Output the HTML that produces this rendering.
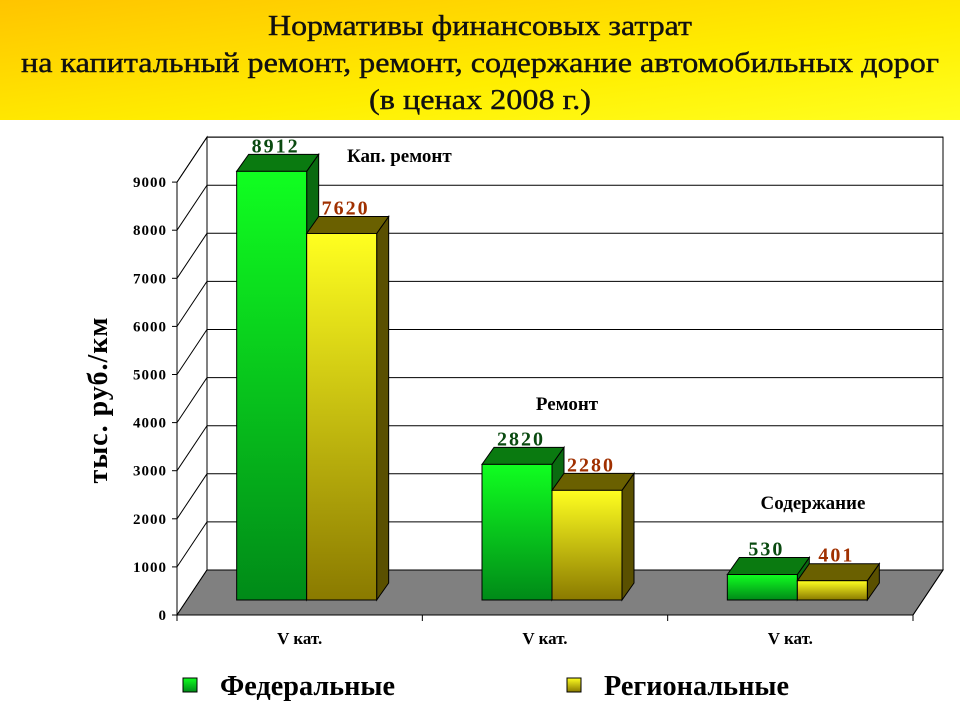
<!DOCTYPE html>
<html><head><meta charset="utf-8"><style>
body{margin:0;width:960px;height:720px;overflow:hidden;background:#fff}
svg{display:block}
text{font-family:"Liberation Serif","Noto Serif CJK SC",serif}
</style></head><body>
<svg id="c" width="960" height="720" viewBox="0 0 960 720">
<defs>
<linearGradient id="hdr" x1="0" y1="0" x2="1" y2="1"><stop offset="0" stop-color="#ffc400"/><stop offset="0.6" stop-color="#ffee00"/><stop offset="1" stop-color="#ffff20"/></linearGradient>
<linearGradient id="gF" x1="0" y1="0" x2="0" y2="1"><stop offset="0" stop-color="#10ff20"/><stop offset="1" stop-color="#008a18"/></linearGradient>
<linearGradient id="gR" x1="0" y1="0" x2="0" y2="1"><stop offset="0" stop-color="#ffff20"/><stop offset="1" stop-color="#8a7a00"/></linearGradient>
</defs>
<rect x="0" y="0" width="960" height="120" fill="url(#hdr)"/>
<g font-size="28" fill="#111" text-anchor="middle" stroke="#111" stroke-width="0.4">
<text x="480" y="35" textLength="424" lengthAdjust="spacingAndGlyphs">Нормативы финансовых затрат</text>
<text x="480" y="72" textLength="918" lengthAdjust="spacingAndGlyphs">на капитальный ремонт, ремонт, содержание автомобильных дорог</text>
<text x="480" y="109" textLength="222" lengthAdjust="spacingAndGlyphs">(в ценах 2008 г.)</text>
</g>
<g id="plot"></g>
</svg>
<script>
const categories=["V кат.","V кат.","V кат."];
const groupNames=["Кап. ремонт","Ремонт","Содержание"];
const federal=[8912,2820,530];
const regional=[7620,2280,401];
const yTicks=[0,1000,2000,3000,4000,5000,6000,7000,8000,9000];
const NS="http://www.w3.org/2000/svg";
const g=document.getElementById('plot');
const X0=177,X1=913,Y0=615,PX=48.1/1000,DX=30,DY=-45;
const y=v=>Y0-v*PX;
function el(t,a,p){const e=document.createElementNS(NS,t);for(const k in a)e.setAttribute(k,a[k]);(p||g).appendChild(e);return e;}
let w=el('polygon',{points:`${X0+DX},${y(0)+DY} ${X1+DX},${y(0)+DY} ${X1+DX},${y(9000)+DY} ${X0+DX},${y(9000)+DY}`,fill:'#fff',stroke:'#000','stroke-width':1});


let sw=el('polygon',{points:`${X0},${y(0)} ${X0+DX},${y(0)+DY} ${X0+DX},${y(9000)+DY} ${X0},${y(9000)}`,fill:'#fff',stroke:'#000','stroke-width':1});


yTicks.forEach(v=>{
 let l=el('polyline',{points:`${X0},${y(v)} ${X0+DX},${y(v)+DY} ${X1+DX},${y(v)+DY}`,fill:'none',stroke:'#000','stroke-width':1});
 
 
 el('line',{x1:X0-5,y1:y(v),x2:X0,y2:y(v),stroke:'#000'});
 let t=el('text',{x:X0-10,y:y(v)+5,'text-anchor':'end','font-size':15,'font-weight':'bold','letter-spacing':'1'});
 t.textContent=v;
 
 
});
let fl=el('polygon',{points:`${X0},${Y0} ${X1},${Y0} ${X1+DX},${Y0+DY} ${X0+DX},${Y0+DY}`,fill:'#808080',stroke:'#000'});


el('line',{x1:X1+DX,y1:y(9000)+DY,x2:X1+DX,y2:Y0+DY,stroke:'#000'});
el('line',{x1:X1,y1:Y0,x2:X1+DX,y2:Y0+DY,stroke:'#000'});
el('line',{x1:X0,y1:y(9000),x2:X0,y2:Y0,stroke:'#000'});
el('line',{x1:X0,y1:Y0,x2:X1,y2:Y0,stroke:'#000'});
const step=(X1-X0)/categories.length, BW=70, BASE=600, bdx=12, bdy=-17;
const by=v=>BASE-v*PX;
function bar(x,v,grad,top,side,name,lc){
 const gr=el('g',{});
 
 
 el('polygon',{points:`${x+BW},${by(v)} ${x+BW+bdx},${by(v)+bdy} ${x+BW+bdx},${BASE+bdy} ${x+BW},${BASE}`,fill:side,stroke:'#000'},gr);
 el('polygon',{points:`${x},${by(v)} ${x+bdx},${by(v)+bdy} ${x+BW+bdx},${by(v)+bdy} ${x+BW},${by(v)}`,fill:top,stroke:'#000'},gr);
 el('rect',{x:x,y:by(v),width:BW,height:v*PX,fill:grad,stroke:'#000'},gr);
 const t=el('text',{x:x+BW/2+4,y:by(v)+bdy-2,'text-anchor':'middle','font-size':20,'font-weight':'bold',fill:lc,'letter-spacing':'2'});
 t.textContent=v;
 
 
}
const gpos=[[347,162,'start'],[567,410,'middle'],[813,509,'middle']];
categories.forEach((c,i)=>{
 const cx=X0+step*(i+0.5);
 bar(cx-BW+7,federal[i],'url(#gF)','#0a7a10','#0a6a10','bar-federal-'+i,'#0a4a10');
 bar(cx+7,regional[i],'url(#gR)','#6a6000','#5a5000','bar-regional-'+i,'#a03000');
 el('line',{x1:X0+step*(i+1),y1:Y0,x2:X0+step*(i+1),y2:Y0+6,stroke:'#000'});
 const t=el('text',{x:cx,y:644,'text-anchor':'middle','font-size':17,'font-weight':'bold'});
 t.textContent=c;
 
 
 const n=el('text',{x:gpos[i][0],y:gpos[i][1],'text-anchor':gpos[i][2],'font-size':19,'font-weight':'bold','font-family':'Liberation Sans, sans-serif'});
 n.textContent=groupNames[i];
 
 
});
el('line',{x1:X0,y1:Y0,x2:X0,y2:Y0+6,stroke:'#000'});
const yt=el('text',{x:0,y:0,transform:'translate(107,400) rotate(-90)','text-anchor':'middle','font-size':28,'font-weight':'bold','letter-spacing':'1'});
yt.textContent='тыс. руб./км';


[[183,'url(#gF)','Федеральные','legend-federal',175],[567,'url(#gR)','Региональные','legend-regional',185]].forEach(a=>{
 const lg=el('g',{});
 
 
 el('rect',{x:a[0],y:678,width:14,height:14,fill:a[1],stroke:'#000'},lg);
 el('text',{x:a[0]+37,y:695,'font-size':28,'font-weight':'bold',textLength:a[4],lengthAdjust:'spacingAndGlyphs'},lg).textContent=a[2];
});
</script>
</body></html>
